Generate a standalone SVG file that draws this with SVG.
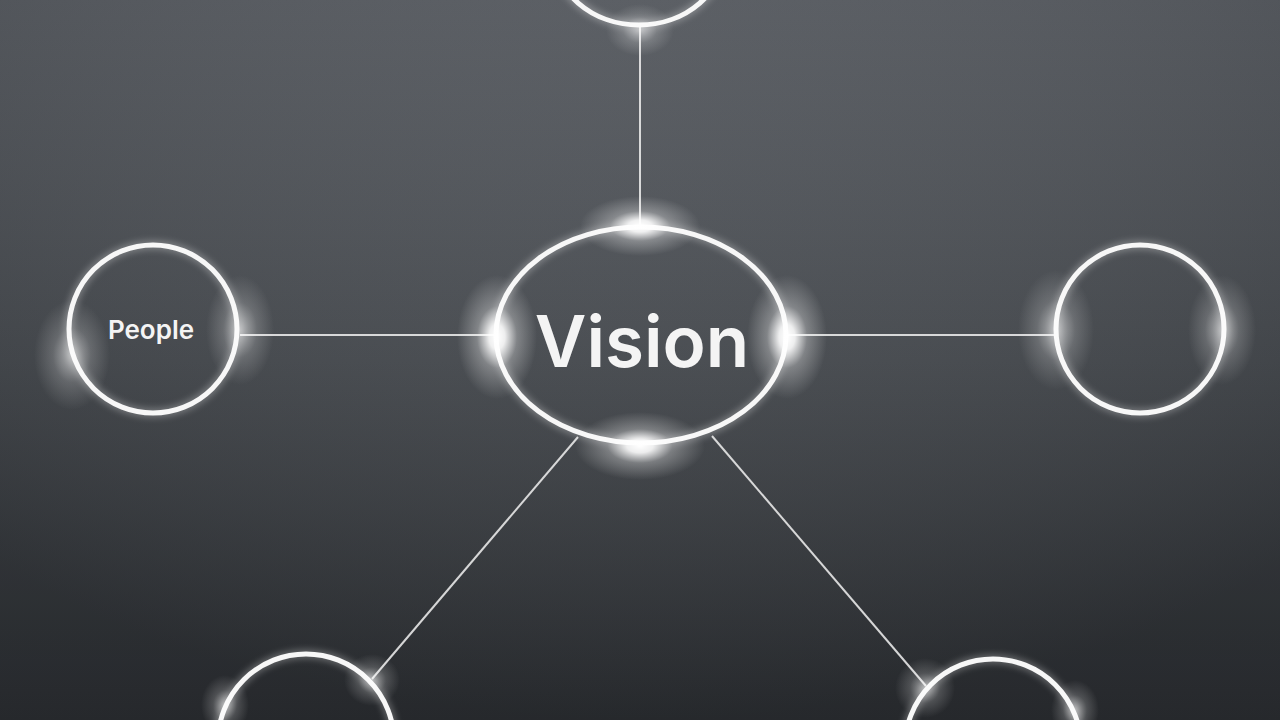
<svg xmlns="http://www.w3.org/2000/svg" width="1280" height="720" viewBox="0 0 1280 720">
<defs>
<linearGradient id="bg" x1="0" y1="0" x2="0" y2="1">
<stop offset="0" stop-color="#575b61"/>
<stop offset="0.5" stop-color="#43474c"/>
<stop offset="1" stop-color="#2b2e32"/>
</linearGradient>
<radialGradient id="vign" cx="0.5" cy="0.3" r="0.7">
<stop offset="0" stop-color="#ffffff" stop-opacity="0.05"/>
<stop offset="1" stop-color="#000000" stop-opacity="0.12"/>
</radialGradient>
<radialGradient id="glow">
<stop offset="0" stop-color="#ffffff" stop-opacity="1"/>
<stop offset="0.2" stop-color="#ffffff" stop-opacity="0.9"/>
<stop offset="0.5" stop-color="#ffffff" stop-opacity="0.3"/>
<stop offset="1" stop-color="#ffffff" stop-opacity="0"/>
</radialGradient>
<radialGradient id="soft">
<stop offset="0" stop-color="#ffffff" stop-opacity="0.6"/>
<stop offset="0.5" stop-color="#ffffff" stop-opacity="0.18"/>
<stop offset="1" stop-color="#ffffff" stop-opacity="0"/>
</radialGradient>
<filter id="blur" x="-20%" y="-20%" width="140%" height="140%">
<feGaussianBlur stdDeviation="3"/>
</filter>
</defs>
<style>
.ring{fill:none;stroke:#f7f7f7;stroke-width:5}
.halo{fill:none;stroke:#ffffff;stroke-width:10;opacity:0.25}
.link{stroke:#e8e8e8;stroke-width:2;opacity:0.9}
.lbl{fill:#f4f4f4;font-family:Inter,"Liberation Sans",Arial,sans-serif;text-anchor:middle}
</style>
<rect width="1280" height="720" fill="url(#bg)"/>
<rect width="1280" height="720" fill="url(#vign)"/>

<g id="connectors">
<line class="link" x1="640" y1="25" x2="640" y2="228"/>
<line class="link" x1="240" y1="335" x2="497" y2="335"/>
<line class="link" x1="785" y1="335" x2="1054" y2="335"/>
<line class="link" x1="578" y1="437" x2="372" y2="679"/>
<line class="link" x1="712" y1="436" x2="926" y2="686"/>
</g>

<g id="node-top">
<ellipse class="halo" cx="639" cy="-50" rx="86" ry="75" filter="url(#blur)"/>
<ellipse class="ring" cx="639" cy="-50" rx="86" ry="75"/>
<ellipse cx="640" cy="30" rx="34" ry="26" fill="url(#soft)"/>
</g>

<g id="node-people">
<circle class="halo" cx="153" cy="329" r="84" filter="url(#blur)"/>
<circle class="ring" cx="153" cy="329" r="84"/>
<ellipse cx="240" cy="330" rx="34" ry="55" fill="url(#soft)"/>
<ellipse cx="72" cy="355" rx="38" ry="55" fill="url(#soft)"/>
<text class="lbl" x="151" y="339" font-size="26" font-weight="600">People</text>
</g>

<g id="node-right">
<circle class="halo" cx="1140" cy="329" r="84" filter="url(#blur)"/>
<circle class="ring" cx="1140" cy="329" r="84"/>
<ellipse cx="1056" cy="330" rx="38" ry="60" fill="url(#soft)"/>
<ellipse cx="1222" cy="330" rx="34" ry="55" fill="url(#soft)"/>
</g>

<g id="node-bottom-left">
<circle class="halo" cx="306" cy="742" r="88" filter="url(#blur)"/>
<circle class="ring" cx="306" cy="742" r="88"/>
<ellipse cx="372" cy="680" rx="28" ry="26" fill="url(#soft)"/>
<ellipse cx="225" cy="705" rx="24" ry="30" fill="url(#soft)"/>
</g>

<g id="node-bottom-right">
<circle class="halo" cx="993" cy="747" r="88" filter="url(#blur)"/>
<circle class="ring" cx="993" cy="747" r="88"/>
<ellipse cx="925" cy="688" rx="30" ry="30" fill="url(#soft)"/>
<ellipse cx="1075" cy="710" rx="24" ry="30" fill="url(#soft)"/>
</g>

<g id="node-vision">
<ellipse class="halo" cx="641" cy="335" rx="145" ry="108" filter="url(#blur)"/>
<ellipse class="ring" cx="641" cy="335" rx="145" ry="108"/>
<ellipse cx="640" cy="226" rx="60" ry="30" fill="url(#glow)"/>
<ellipse cx="640" cy="446" rx="65" ry="34" fill="url(#glow)"/>
<ellipse cx="497" cy="337" rx="40" ry="62" fill="url(#glow)"/>
<ellipse cx="787" cy="337" rx="40" ry="62" fill="url(#glow)"/>
<text class="lbl" x="642" y="367" font-size="71" font-weight="600">Vision</text>
</g>
</svg>
